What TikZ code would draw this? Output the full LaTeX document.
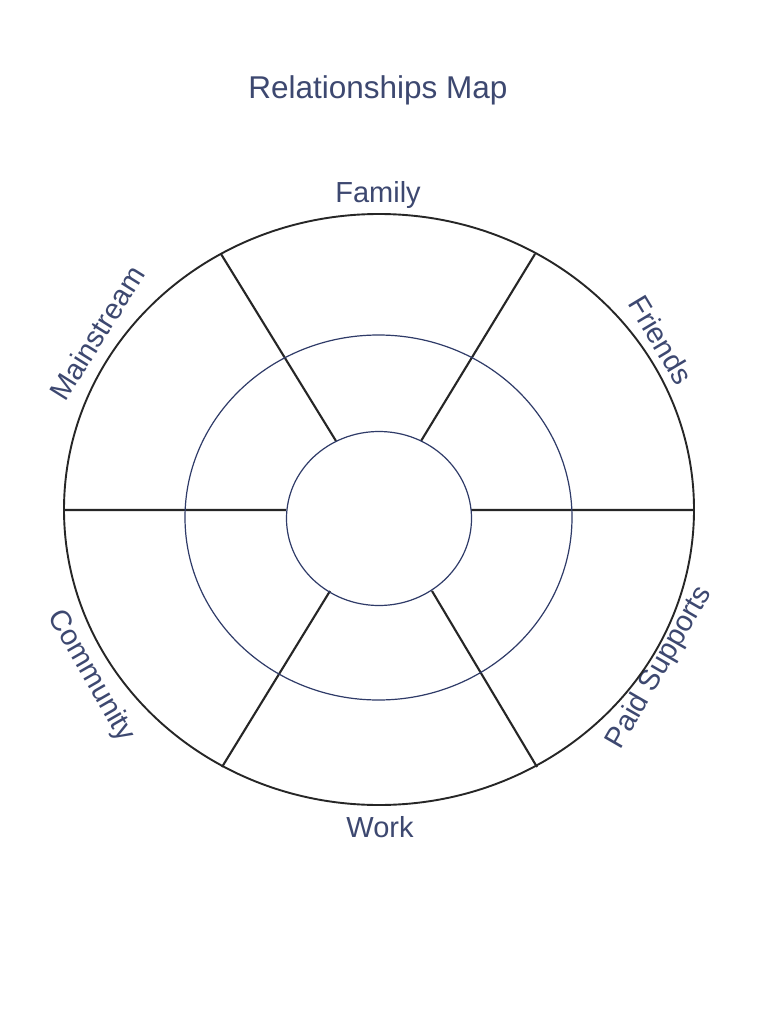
\documentclass[tikz,border=0pt]{standalone}
\usepackage{fontspec}
\setmainfont{Liberation Sans}
\usetikzlibrary{positioning}
\definecolor{inkblue}{HTML}{3D4870}
\definecolor{ringblue}{HTML}{2F3B68}
\definecolor{rimgray}{HTML}{262626}

\begin{document}
\begin{tikzpicture}[x=1pt,y=-1pt]
        \tikzset{rim/.style={draw=rimgray,line width=1.9pt},
        ring/.style={draw=ringblue,line width=1.2pt},
        spoke/.style={draw=rimgray,line width=2.1pt},
        sector/.style={text=inkblue,inner sep=0pt,font=\fontsize{29}{34}\selectfont},
        }
        \useasboundingbox[fill=white] (0,0) rectangle (768,1024);
%% title and sector labels
        \node [sector,anchor=base,font=\fontsize{31.5}{37}\selectfont] (title) at (378,99) {Relationships Map};
        \node [sector,anchor=base] (family) at (378,203) {Family};
        \node [sector,rotate=-59] (friends) at (661,340) {Friends};
        \node [sector,rotate=60] (paid) at (660,668) {Paid Supports};
        \node [sector,anchor=base] (work) at (380,837) {Work};
        \node [sector,rotate=-60] (community) at (91,676) {Community};
        \node [sector,rotate=58] (mainstream) at (97,333) {Mainstream};
%% spoke ends
        \coordinate (ulo) at (221,254);  \coordinate (uli) at (336,441);
        \coordinate (uro) at (535,254);  \coordinate (uri) at (421,441);
        \coordinate (llo) at (222,767);  \coordinate (lli) at (330,591);
        \coordinate (lro) at (537,767);  \coordinate (lri) at (432,591);
        \coordinate (lo) at (64,510);    \coordinate (li) at (286,510);
        \coordinate (ro) at (694,510);   \coordinate (ri) at (471,510);
%% paths
        \path[spoke] (ulo) -- (uli) (uro) -- (uri)
                    (llo) -- (lli) (lro) -- (lri)
                    (lo) -- (li) (ro) -- (ri);
        \draw[rim] (379,509.5) ellipse [x radius=315, y radius=295.5];
        \draw[ring] (378.5,517.5) ellipse [x radius=193.5, y radius=182.5];
        \draw[ring] (379,518.5) ellipse [x radius=92.5, y radius=87];
    \end{tikzpicture}
\end{document}
